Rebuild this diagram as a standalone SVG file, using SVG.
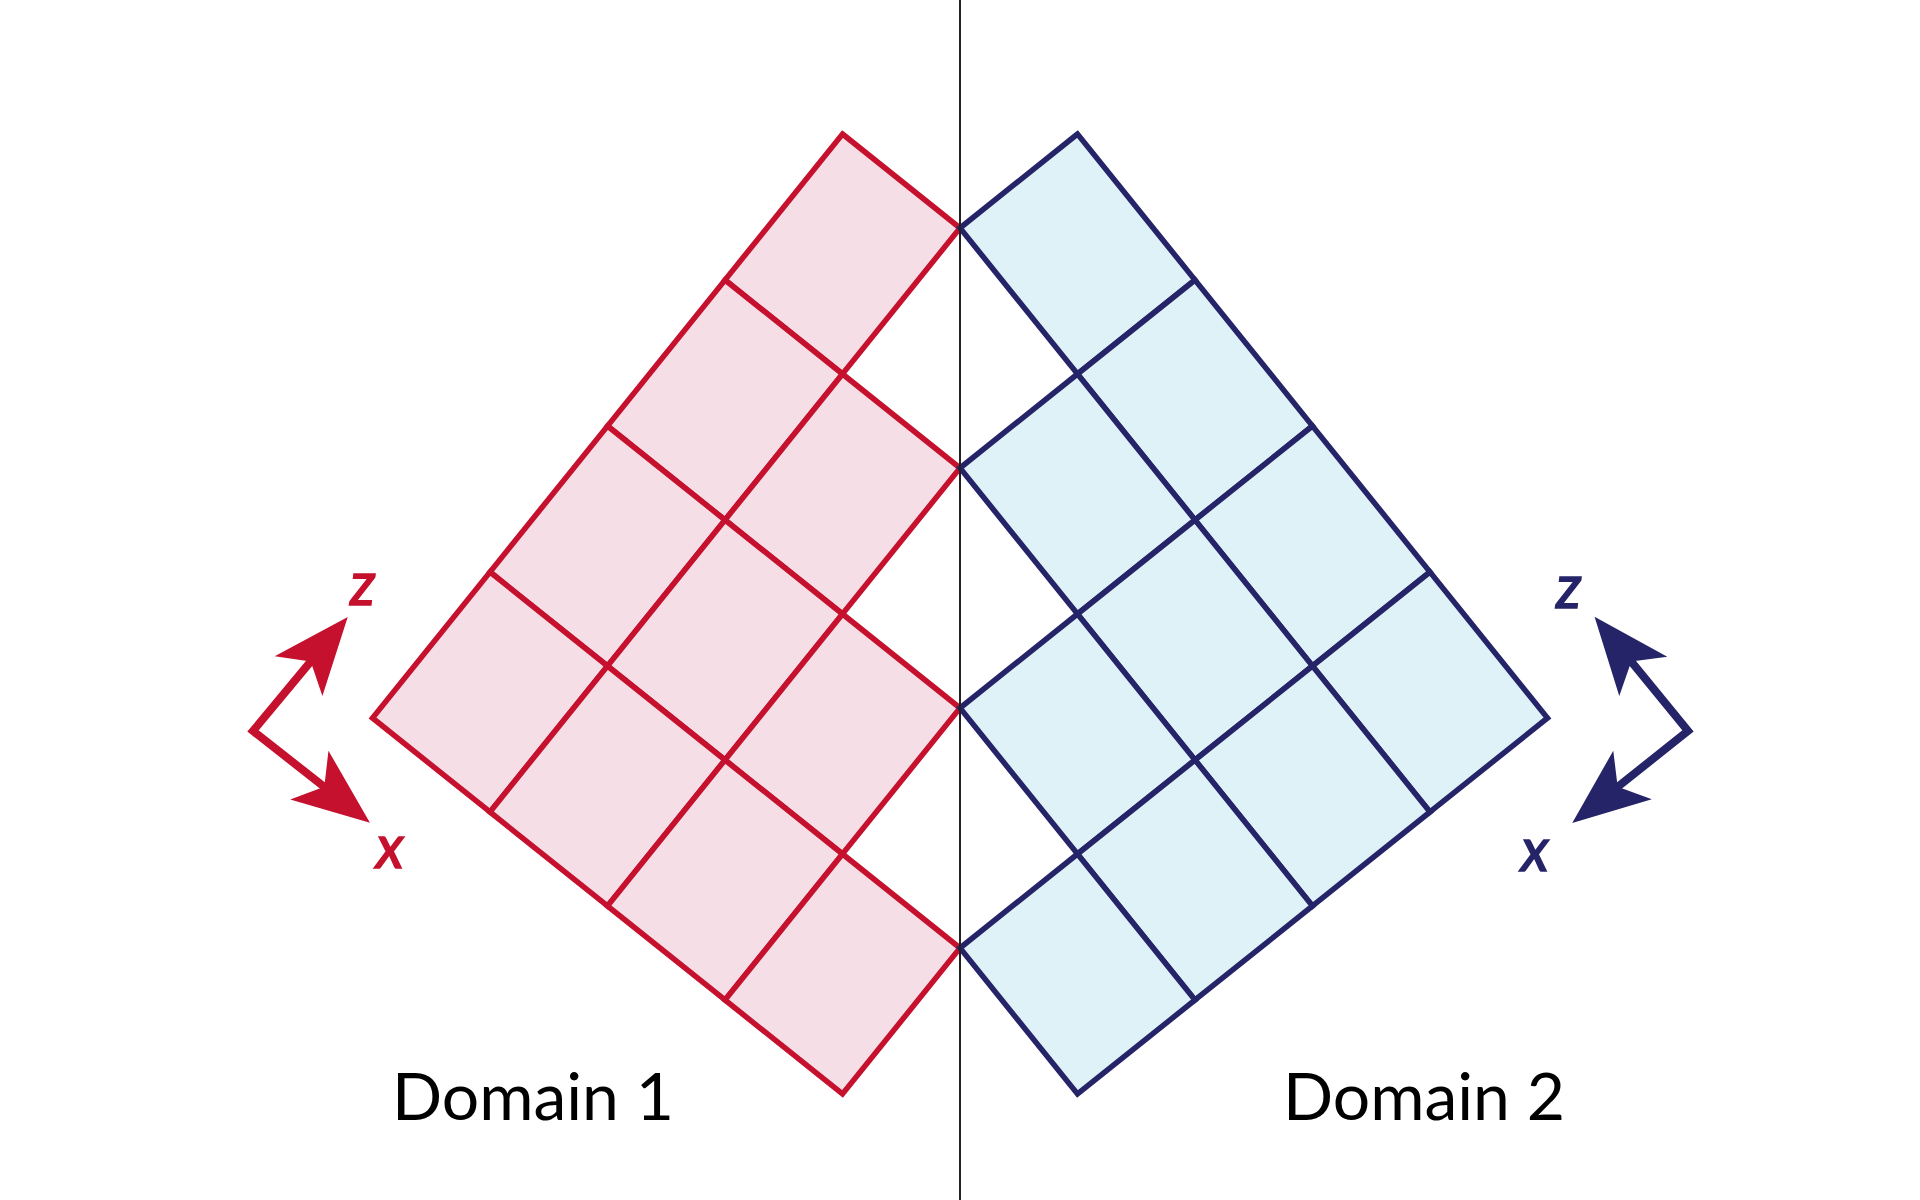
<svg xmlns="http://www.w3.org/2000/svg" width="1920" height="1200" viewBox="0 0 1920 1200">
<style>
.red polygon{fill:#F5DEE6;stroke:#C5112E;stroke-width:5.5;stroke-linejoin:miter}
.blue polygon{fill:#DFF2F7;stroke:#262468;stroke-width:5.5;stroke-linejoin:miter}
.axr{fill:none;stroke:#C5112E;stroke-width:8;stroke-linejoin:miter}
.axb{fill:none;stroke:#262468;stroke-width:8;stroke-linejoin:miter}
.lab{font-family:Lato,"Open Sans","Liberation Sans",sans-serif;font-style:italic;font-size:60px;stroke-width:1.5}
.dom{font-family:Lato,"Open Sans","Liberation Sans",sans-serif;font-size:66px;fill:#000}
</style>
<defs>
<marker id="hr" markerUnits="userSpaceOnUse" viewBox="-30 -35 85 70" refX="0" refY="0" markerWidth="85" markerHeight="70" orient="auto-start-reverse" overflow="visible">
<path d="M50,0 L-27,-31 L-8,0 L-27,31 Z" fill="#C5112E"/>
</marker>
<marker id="hb" markerUnits="userSpaceOnUse" viewBox="-30 -35 85 70" refX="0" refY="0" markerWidth="85" markerHeight="70" orient="auto-start-reverse" overflow="visible">
<path d="M50,0 L-27,-31 L-8,0 L-27,31 Z" fill="#262468"/>
</marker>
</defs>
<rect width="1920" height="1200" fill="#fff"/>
<g id="domain1" class="red">
<polygon points="842.5,134 960,228 842.5,374 725,280"/>
<polygon points="725,280 842.5,374 725,520 607.5,426"/>
<polygon points="842.5,374 960,468 842.5,614 725,520"/>
<polygon points="607.5,426 725,520 607.5,666 490,572"/>
<polygon points="725,520 842.5,614 725,760 607.5,666"/>
<polygon points="842.5,614 960,708 842.5,854 725,760"/>
<polygon points="490,572 607.5,666 490,812 372.5,718"/>
<polygon points="607.5,666 725,760 607.5,906 490,812"/>
<polygon points="725,760 842.5,854 725,1000 607.5,906"/>
<polygon points="842.5,854 960,948 842.5,1094 725,1000"/>
</g>
<g id="domain2" class="blue" transform="matrix(-1 0 0 1 1920 0)">
<polygon points="842.5,134 960,228 842.5,374 725,280"/>
<polygon points="725,280 842.5,374 725,520 607.5,426"/>
<polygon points="842.5,374 960,468 842.5,614 725,520"/>
<polygon points="607.5,426 725,520 607.5,666 490,572"/>
<polygon points="725,520 842.5,614 725,760 607.5,666"/>
<polygon points="842.5,614 960,708 842.5,854 725,760"/>
<polygon points="490,572 607.5,666 490,812 372.5,718"/>
<polygon points="607.5,666 725,760 607.5,906 490,812"/>
<polygon points="725,760 842.5,854 725,1000 607.5,906"/>
<polygon points="842.5,854 960,948 842.5,1094 725,1000"/>
</g>
<line id="divider" x1="960" y1="0" x2="960" y2="1200" stroke="#222" stroke-width="2"/>
<g id="axes1">
<polyline class="axr" points="315.8,655.4 253,731 330.6,791.8" marker-start="url(#hr)" marker-end="url(#hr)"/>
<text class="lab" x="350" y="605" fill="#C5112E" stroke="#C5112E">z</text>
<text class="lab" x="376" y="868" fill="#C5112E" stroke="#C5112E">x</text>
</g>
<g id="axes2">
<polyline class="axb" points="1626.2,655.4 1688,731 1611.4,791.8" marker-start="url(#hb)" marker-end="url(#hb)"/>
<text class="lab" x="1556" y="608" fill="#262468" stroke="#262468">z</text>
<text class="lab" x="1521" y="871" fill="#262468" stroke="#262468">x</text>
</g>
<text id="label1" class="dom" x="392" y="1120">Domain 1</text>
<text id="label2" class="dom" x="1283" y="1120">Domain 2</text>
</svg>
